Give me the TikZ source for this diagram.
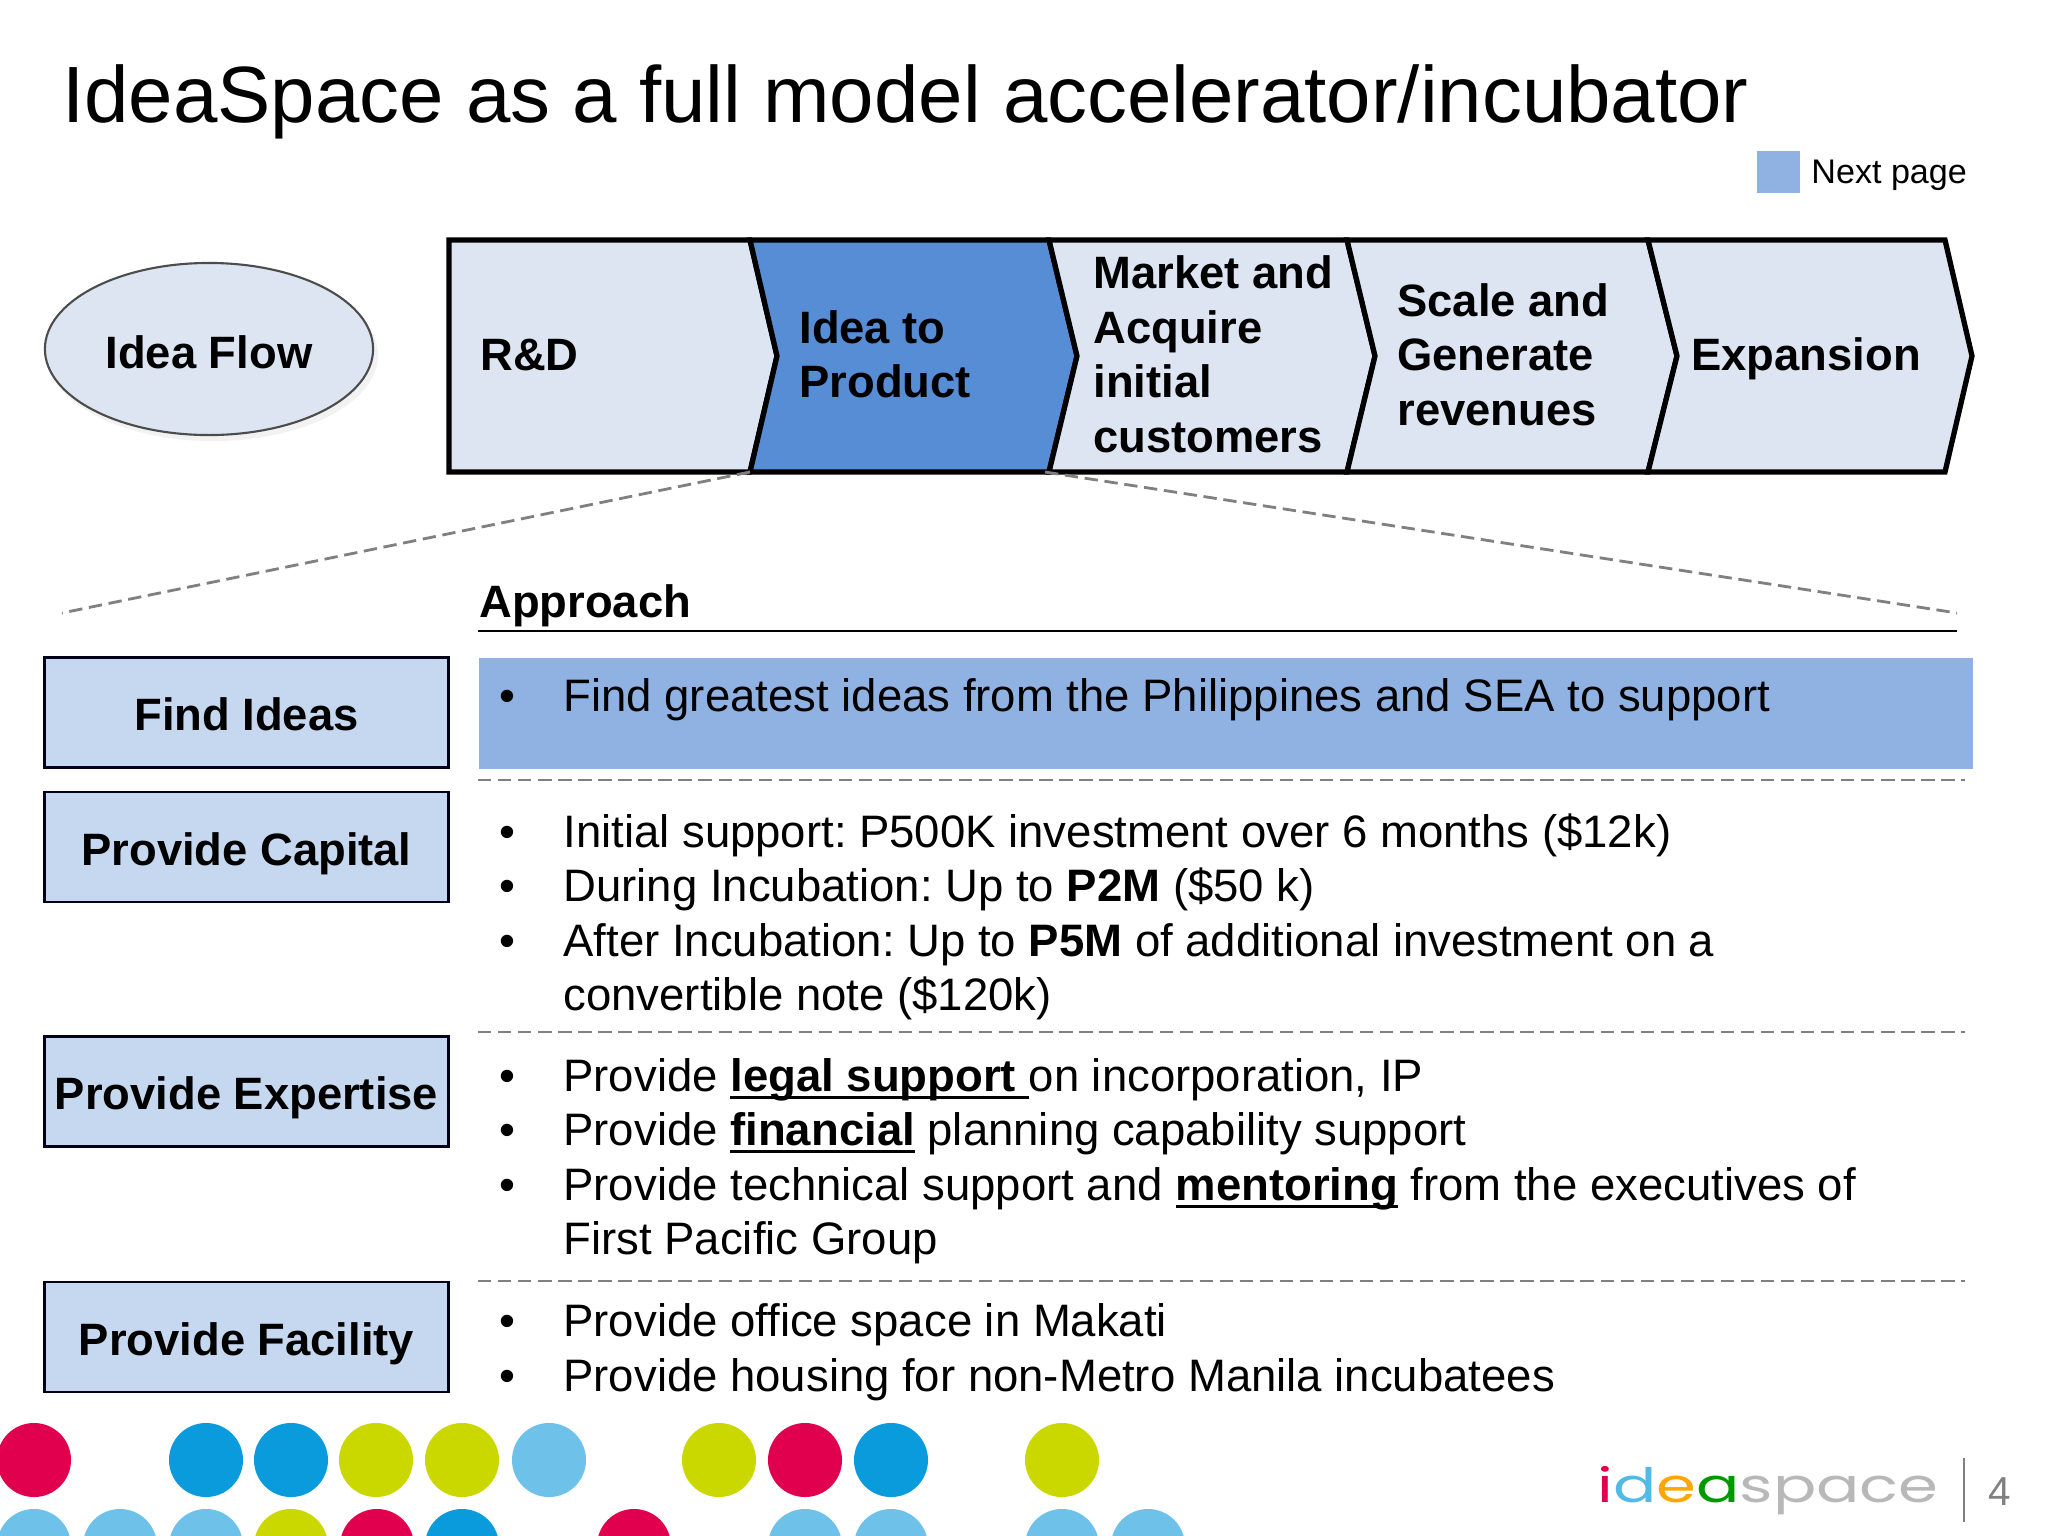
\documentclass[tikz,border=0pt]{standalone}
\usepackage{fontspec}
\setmainfont{Liberation Sans}
\newfontfamily\logofont{Poppins}
\usetikzlibrary{positioning,shapes.geometric}
\definecolor{paleblue}{HTML}{DDE5F2}
\definecolor{stepblue}{HTML}{568DD5}
\definecolor{boxblue}{HTML}{C6D8EF}
\definecolor{bandblue}{HTML}{8FB2E3}
\definecolor{dotred}{HTML}{E0004D}
\definecolor{dotblue}{HTML}{0A9BDC}
\definecolor{dotlime}{HTML}{CBD800}
\definecolor{dotsky}{HTML}{6EC1E8}
\newcommand{\bul}[1]{\makebox[0.71cm][l]{\hspace{0.07cm}\textbullet}#1}
\newcommand{\ulb}[1]{\setbox0\hbox{\textbf{#1}}\rlap{\rule[-2.2pt]{\wd0}{0.9pt}}\box0\relax}
\begin{document}
\begin{tikzpicture}[x=0.01cm,y=-0.01cm,thick,
    box node/.style={draw=black!90!blue,fill=boxblue,line width=0.8pt,minimum width=4.03cm,minimum height=1.1cm,inner sep=0pt,text height=10.4pt,text depth=0pt,font=\fontsize{12.9}{15.5}\selectfont\bfseries},
    step label/.style={anchor=west,inner sep=0pt,align=left,font=\fontsize{12.9}{15.5}\selectfont\bfseries},
    body text/.style={anchor=west,inner sep=0pt,align=left,font=\fontsize{12.94}{15.5}\selectfont\frenchspacing},
    step shape/.style={draw=black,line width=1.5pt,fill=paleblue},
    funnel line/.style={draw=black!50,line width=0.8pt,dash pattern=on 3.8pt off 1.9pt},
    row line/.style={draw=black!50,line width=0.8pt,dash pattern=on 3.8pt off 1.9pt}]

      \useasboundingbox (0,0) rectangle (2048,1536);
      \clip (0,0) rectangle (2048,1536);

      \node[anchor=base west,inner sep=0pt,font=\fontsize{22.7}{28}\selectfont] (title) at (61,122) {IdeaSpace as a full model accelerator/incubator};

      \node[fill=bandblue,minimum width=0.43cm,minimum height=0.42cm,inner sep=0pt] (legend) at (1778,172) {};
      \node[anchor=west,inner sep=0pt,font=\fontsize{9.7}{12}\selectfont] (legendtext) at (1810,175) {Next page};

      \fill[black!5] (213,355) ellipse [x radius=1.65cm,y radius=0.86cm];
      \node[ellipse,draw=black!70,fill=paleblue,line width=0.6pt,minimum width=3.28cm,minimum height=1.72cm,inner sep=0pt,text height=10.9pt,text depth=0pt,font=\fontsize{12.9}{15.5}\selectfont\bfseries] (flow) at (209,349) {Idea Flow};

      \draw[step shape] (449,240) -- (750,240) -- (777,356) -- (750,472) -- (449,472) -- cycle;
      \draw[step shape,fill=stepblue] (750,240) -- (1049,240) -- (1077,356) -- (1049,472) -- (750,472) -- (777,356) -- cycle;
      \draw[step shape] (1049,240) -- (1347,240) -- (1375,356) -- (1347,472) -- (1049,472) -- (1077,356) -- cycle;
      \draw[step shape] (1347,240) -- (1648,240) -- (1677,356) -- (1648,472) -- (1347,472) -- (1375,356) -- cycle;
      \draw[step shape] (1648,240) -- (1945,240) -- (1972,356) -- (1945,472) -- (1648,472) -- (1677,356) -- cycle;

      \node[step label] (rd) at (479,355) {R\&D};
      \node[step label] (product) at (798,354.5) {Idea to\\Product};
      \node[step label] (market) at (1092,354.5) {Market and\\Acquire\\initial\\customers};
      \node[step label] (scale) at (1396,354.5) {Scale and\\Generate\\revenues};
      \node[step label] (expansion) at (1690,359) {Expansion};

      \coordinate (funnel left top) at (750,472);
      \coordinate (funnel left end) at (62,613);
      \coordinate (funnel right top) at (1045,472);
      \coordinate (funnel right end) at (1957,613);
      \path[funnel line] (funnel left top) edge (funnel left end) (funnel right top) edge (funnel right end);

      \node[step label] (approach) at (478,606) {Approach};
      \coordinate (approach a) at (478,631);
      \coordinate (approach b) at (1957,631);
      \draw[line width=0.75pt] (approach a) -- (approach b);

      \node[box node] (find) at (246.5,712.5) {Find Ideas};
      \node[box node] (capital) at (246.5,847) {Provide Capital};
      \node[box node] (expertise) at (246.5,1091.5) {Provide Expertise};
      \node[box node] (facility) at (246.5,1337) {Provide Facility};

      \node[fill=bandblue,anchor=north west,minimum width=14.93cm,minimum height=1.11cm,inner sep=0pt] (band) at (478,657) {};

      \node[body text] (ideas) at (491,700) {\bul{Find greatest ideas from the Philippines and SEA to support}};
      \node[body text] (money) at (491,917) {\bul{Initial support: P500K investment over 6 months (\$12k)}\\\bul{During Incubation: Up to \textbf{P2M} (\$50 k)}\\\bul{After Incubation: Up to \textbf{P5M} of additional investment on a}\\\hspace*{0.71cm}convertible note (\$120k)};
      \node[body text] (help) at (491,1161) {\bul{Provide \ulb{legal support\ }on incorporation, IP}\\\bul{Provide \ulb{financial} planning capability support}\\\bul{Provide technical support and \ulb{mentoring} from the executives of}\\\hspace*{0.71cm}First Pacific Group};
      \node[body text] (space) at (491,1352) {\bul{Provide office space in Makati}\\\bul{Provide housing for non-Metro Manila incubatees}};

      \foreach \ya/\yb in {780/a,1032/b,1281/c}{
        \coordinate (row \yb) at (478,\ya);
        \coordinate (row end \yb) at (1965,\ya);
        \draw[row line] (row \yb) -- (row end \yb);
      }

      \foreach \xd/\colr in {34/dotred,206/dotblue,291/dotblue,376/dotlime,462/dotlime,549/dotsky,719/dotlime,805/dotred,891/dotblue,1062/dotlime}
        \fill[\colr] (\xd,1460) circle [radius=0.37cm];
      \foreach \xd/\colr in {34/dotsky,120/dotsky,206/dotsky,291/dotlime,377/dotred,462/dotblue,634/dotred,805/dotsky,891/dotsky,1062/dotsky,1148/dotsky}
        \fill[\colr] (\xd,1546) circle [radius=0.37cm];

      \node[inner sep=0pt,xscale=1.35,font=\logofont\fontsize{13.5}{16}\selectfont] (logo) at (1768,1491) {\textcolor{dotred}{i}\textcolor{dotblue!70}{d}\textcolor{orange!70!yellow}{e}\textcolor{green!60!black}{a}\textcolor{black!28}{space}};
      \coordinate (divider top) at (1964,1458);
      \coordinate (divider end) at (1964,1522);
      \draw[black!50,line width=0.7pt] (divider top) -- (divider end);
      \node[inner sep=0pt,text=black!50,font=\fontsize{11.5}{14}\selectfont] (pagenum) at (2000,1492) {4};
\end{tikzpicture}
\end{document}
